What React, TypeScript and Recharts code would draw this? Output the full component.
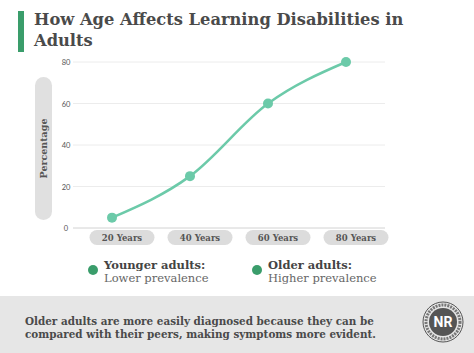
import { LineChart, Line, XAxis, YAxis, CartesianGrid } from 'recharts'

const ages = ['20 Years', '40 Years', '60 Years', '80 Years']
const percentage = [5, 25, 60, 80]
const yTicks = [0, 20, 40, 60, 80]

const data = ages.map((age, i) => ({ age, value: percentage[i] }))

const LINE = '#6ccaa9'
const GREEN = '#3a9d6b'
const SLAB = '"DejaVu Serif", serif'

const XTick = (props: any) => {
  const { x, y, payload } = props
  const cx = x + 10
  return (
    <g>
      <rect x={cx - 32.5} y={y - 6} width={65} height={15} rx={7.5} fill="#dcdcdc" />
      <text x={cx} y={y + 4.5} textAnchor="middle" fontSize={8.5} fontWeight="bold" fontFamily={SLAB} fill="#555">
        {payload.value}
      </text>
    </g>
  )
}

const YTick = (props: any) => {
  const { y, payload } = props
  return (
    <text x={66} y={y + 3} textAnchor="middle" fontSize={7.5} fontFamily="Lato, sans-serif" fill="#555">
      {payload.value}
    </text>
  )
}

export default function App() {
  return (
    <div style={{ position: 'relative', width: 474, height: 353, background: '#fff', overflow: 'hidden' }}>
      <style>{`body{margin:0}`}</style>
      <div style={{ position: 'absolute', left: 18, top: 11, width: 6, height: 41, background: GREEN }} />
      <div
        style={{
          position: 'absolute',
          left: 34,
          top: 9,
          fontFamily: SLAB,
          fontWeight: 'bold',
          fontSize: 16.3,
          lineHeight: '21px',
          color: '#4a4a4a',
        }}
      >
        How Age Affects Learning Disabilities in
        <br />
        Adults
      </div>

      <div
        style={{
          position: 'absolute',
          left: 35,
          top: 77,
          width: 17,
          height: 143,
          borderRadius: 9,
          background: '#e0e0e0',
          display: 'flex',
          alignItems: 'center',
          justifyContent: 'center',
        }}
      >
        <span
          style={{
            transform: 'rotate(-90deg)',
            whiteSpace: 'nowrap',
            fontFamily: SLAB,
            fontWeight: 'bold',
            fontSize: 9.5,
            color: '#555',
          }}
        >
          Percentage
        </span>
      </div>

      <div style={{ position: 'absolute', left: 0, top: 0 }}>
        <LineChart width={474} height={250} data={data} margin={{ top: 62, right: 89, bottom: 2, left: 43 }}>
          <CartesianGrid vertical={false} stroke="#ececec" />
          <XAxis
            dataKey="age"
            height={20}
            padding={{ left: 39, right: 39 }}
            tickLine={false}
            axisLine={{ stroke: '#dcdcdc' }}
            tick={<XTick />}
            interval={0}
          />
          <YAxis
            width={30}
            domain={[0, 80]}
            ticks={yTicks}
            tickLine={false}
            axisLine={false}
            tick={<YTick />}
          />
          <Line
            type="monotone"
            dataKey="value"
            stroke={LINE}
            strokeWidth={2.5}
            dot={{ r: 5, fill: LINE, stroke: 'none' }}
            isAnimationActive={false}
          />
        </LineChart>
      </div>

      {[
        { x: 93, head: 'Younger adults:', sub: 'Lower prevalence' },
        { x: 257, head: 'Older adults:', sub: 'Higher prevalence' },
      ].map((l) => (
        <div key={l.head} style={{ position: 'absolute', left: l.x - 5, top: 259 }}>
          <div style={{ position: 'absolute', left: 0, top: 6, width: 10, height: 10, borderRadius: 5, background: GREEN }} />
          <div style={{ position: 'absolute', left: 16, top: 0, fontFamily: SLAB, fontSize: 11.5, lineHeight: '13px', whiteSpace: 'nowrap' }}>
            <div style={{ fontWeight: 'bold', color: '#444' }}>{l.head}</div>
            <div style={{ color: '#666' }}>{l.sub}</div>
          </div>
        </div>
      ))}

      <div style={{ position: 'absolute', left: 0, top: 296, width: 474, height: 57, background: '#e6e6e6' }}>
        <div
          style={{
            position: 'absolute',
            left: 25,
            top: 19,
            fontFamily: SLAB,
            fontWeight: 'bold',
            fontSize: 10.4,
            lineHeight: '13px',
            color: '#4a4a4a',
            whiteSpace: 'nowrap',
          }}
        >
          Older adults are more easily diagnosed because they can be
          <br />
          compared with their peers, making symptoms more evident.
        </div>
        <svg style={{ position: 'absolute', left: 421, top: 4 }} width={44} height={44}>
          <circle cx={22} cy={22} r={20} fill="#e6e6e6" stroke="#555" strokeWidth={1} />
          <circle cx={22} cy={22} r={17} fill="none" stroke="#777" strokeWidth={3} strokeDasharray="2 1" />
          <circle cx={22} cy={22} r={14} fill="#555" />
          <text x={22} y={27} textAnchor="middle" fontSize={14} fontWeight="bold" fontFamily="Roboto, sans-serif" fill="#fff">
            NR
          </text>
        </svg>
      </div>
    </div>
  )
}
